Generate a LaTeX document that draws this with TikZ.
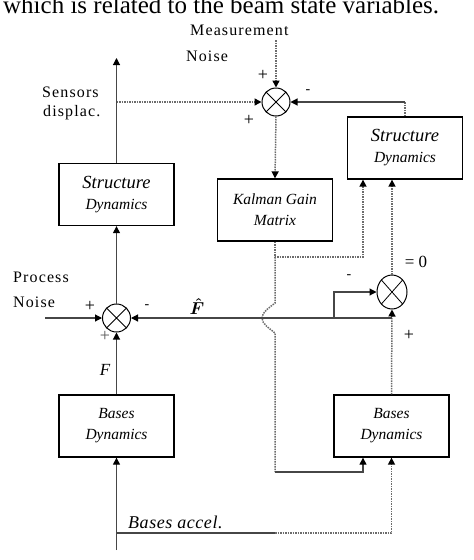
\documentclass[tikz,border=0pt]{standalone}
\usepackage{fontspec}
\usepackage{amsmath}
\setmainfont{Liberation Serif}
\usetikzlibrary{arrows.meta,shapes.geometric}
\begin{document}
\begin{tikzpicture}[x=1pt,y=-1pt,
  tip/.tip={Triangle[length=7pt,width=7pt,color=black]},
  sline/.style={draw=gray!55!black,line width=1.1pt},
  dline/.style={draw=gray!85!black,line width=1.5pt,densely dotted},
  blk/.style={draw=black,line width=1.3pt,minimum width=115pt,minimum height=62pt,
    inner sep=0pt,align=center,font=\fontsize{15.5}{21}\selectfont\itshape},
  xmark/.style={path picture={\draw[black,line width=0.8pt]
      (path picture bounding box.north west) -- (path picture bounding box.south east)
      (path picture bounding box.north east) -- (path picture bounding box.south west);}},
  sumc/.style={draw=black,line width=1pt,circle,minimum size=28pt,inner sep=0pt,xmark},
  sume/.style={draw=black,line width=1pt,ellipse,minimum width=30pt,minimum height=34pt,inner sep=0pt,xmark},
  lbl/.style={inner sep=0pt,anchor=base west,font=\fontsize{16}{18}\selectfont\addfontfeature{LetterSpace=7}},
  sgn/.style={inner sep=0pt,font=\fontsize{18}{18}\selectfont},
  msg/.style={inner sep=0pt,font=\fontsize{14}{14}\selectfont}
]
\useasboundingbox (0,0) rectangle (474,560);
\clip (0,0) rectangle (474,560);

% cut-off heading line
\node[inner sep=0pt,anchor=base west,font=\fontsize{25}{27}\selectfont] (head) at (3,13) {which is related to the beam state variables.};

% blocks
\node[blk] (sdL) at (116.5,194.5) {{\fontsize{18.5}{21}\selectfont Structure}\\Dynamics};
\node[blk] (sdR) at (405,148) {{\fontsize{18.5}{21}\selectfont Structure}\\Dynamics};
\node[blk] (kal) at (275,210) {Kalman Gain\\Matrix};
\node[blk] (bdL) at (116.5,426) {Bases\\Dynamics};
\node[blk] (bdR) at (391.5,426) {Bases\\Dynamics};

% summing junctions
\node[sumc] (s1) at (276,102) {};
\node[sume] (s2) at (392,292) {};
\node[sumc] (s3) at (116.5,318) {};

% text labels
\node[lbl] (meas) at (190,35) {Measurement};
\node[lbl] (mnoise) at (186,61) {Noise};
\node[lbl] (sens) at (42,97) {Sensors};
\node[lbl] (disp) at (43,116) {displac.};
\node[lbl] (proc) at (13,282) {Process};
\node[lbl] (pnoise) at (13,307) {Noise};
\node[inner sep=0pt,anchor=base west,font=\fontsize{18}{20}\selectfont\itshape\addfontfeature{LetterSpace=3}] (bacc) at (128,528) {Bases accel.};
\node[inner sep=0pt,font=\fontsize{17}{17}\selectfont\itshape] (flab) at (105,370) {F};
\node[inner sep=0pt,anchor=south] (fhat) at (197,315) {\fontsize{17}{17}\selectfont$\boldsymbol{\hat{F}}$};
\node[inner sep=0pt,font=\fontsize{17}{17}\selectfont] (eq0) at (416,262) {= 0};

\node[sgn] (p1) at (263,75) {+};
\node[sgn] (p2) at (249,120) {+};
\node[msg] (m1) at (308,92) {-};
\node[msg] (m2) at (349,277) {-};
\node[sgn] (p3) at (409,335) {+};
\node[sgn] (p4) at (90,306) {+};
\node[msg] (m3) at (147,307) {-};
\node[sgn,text=gray!70!black] (p5) at (105,336) {+};

% free ends and junctions
\coordinate (mn) at (276,40);
\coordinate (sd) at (116.5,102);
\coordinate (outtop) at (116.5,58);
\coordinate (inbot) at (116.5,550);
\coordinate (pn) at (45,318);
\coordinate (rt) at (405,102);
\coordinate (kj) at (275,257);
\coordinate (hopa) at (275,303);
\coordinate (hopb) at (275,333);
\coordinate (kb) at (275,472);
\coordinate (jn) at (392,318);
\coordinate (br) at (334,318);
\coordinate (ba) at (116.5,533);
\coordinate (bam) at (275,533);

% connectors
\draw[dline,-tip] (mn) -- (s1.north);
\draw[dline,-tip] (sd) -- (s1.west);
\draw[dline] (sdR.north) -- (rt);
\draw[sline,-tip] (rt) -- (s1.east);
\draw[dline,-tip] (s1.south) -- (kal.north);
\draw[dline,-tip] (kal.south) -- (kj) -| ([xshift=-42pt]sdR.south);
\draw[dline] (kj) -- (hopa) .. controls (269,308) and (262,312) .. (262,318)
  .. controls (262,324) and (269,328) .. (hopb) -- (kb);
\draw[sline,-tip] (kb) -| ([xshift=-28.5pt]bdR.south);
\draw[dline,-tip] (s2.north) -- ([xshift=-13pt]sdR.south);
\draw[dline,-tip] (bdR.north) -- (s2.south);
\draw[sline,-tip] (jn) -- (s3.east);
\draw[sline,-tip] (br) |- (s2.west);
\draw[sline,-tip] (pn) -- (s3.west);
\draw[sline,-tip] (s3.north) -- (sdL.south);
\draw[sline,-tip] (sdL.north) -- (outtop);
\draw[sline,-tip] (bdL.north) -- (s3.south);
\draw[sline,-tip] (inbot) -- (bdL.south);
\draw[sline] (ba) -- (bam);
\draw[dline,-tip] (bam) -| (bdR.south);
\end{tikzpicture}
\end{document}
